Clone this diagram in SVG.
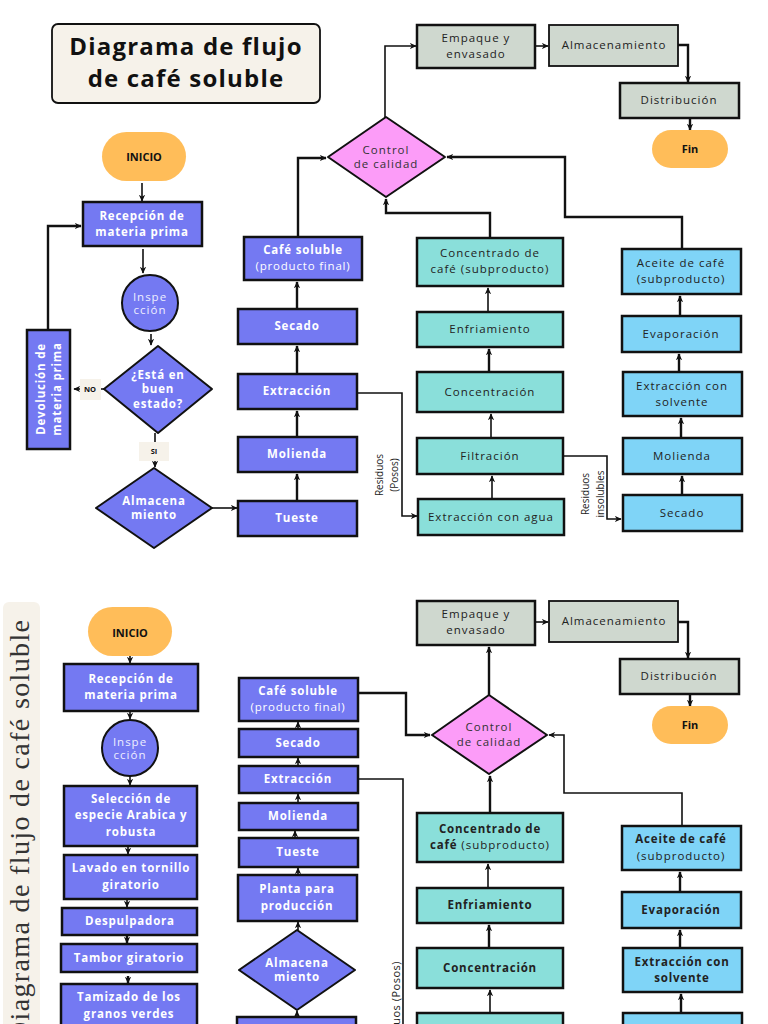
<svg xmlns="http://www.w3.org/2000/svg" width="768" height="1024" viewBox="0 0 768 1024">
<defs>
<marker id="ah" viewBox="0 0 10 10" refX="9" refY="5" markerWidth="7" markerHeight="7" orient="auto" markerUnits="userSpaceOnUse">
<path d="M0,0.5 L10,5 L0,9.5 L3,5 z" fill="#111"/>
</marker>
<style>
.bx{stroke:#111;stroke-width:2.5}
.b{fill:#7479f2}
.t{fill:#8adfda}
.l{fill:#7fd4f7}
.g{fill:#cfd8cf}
.p{fill:#fc9cf8;stroke:#111;stroke-width:2}
.o{fill:#ffbd59}
.bg{fill:#f6f2ea}
.w{font-family:"Open Sans","Noto Sans",sans-serif;font-weight:700;font-size:11.5px;fill:#fff;letter-spacing:0.8px;text-anchor:middle;dominant-baseline:central}
.wr{font-weight:400}
.lt{font-family:"Open Sans","Noto Sans",sans-serif;font-weight:400;font-size:11.5px;fill:#eef;letter-spacing:1px;text-anchor:middle;dominant-baseline:central}
.d{font-family:"Open Sans","Noto Sans",sans-serif;font-weight:400;font-size:11.5px;fill:#222;letter-spacing:1px;text-anchor:middle;dominant-baseline:central}
.db{font-weight:700;letter-spacing:0.8px}
.k{font-family:"Open Sans","Noto Sans",sans-serif;font-weight:700;font-size:11px;fill:#111;text-anchor:middle;dominant-baseline:central}
.sm{font-family:"Open Sans","Noto Sans",sans-serif;font-weight:400;font-size:10px;fill:#222;text-anchor:middle;dominant-baseline:central}
.c{fill:none;stroke:#111;stroke-width:1.6}
.c2{fill:none;stroke:#111;stroke-width:2.4}
.ttl{font-family:"Open Sans","Noto Sans",sans-serif;font-weight:700;font-size:24px;fill:#111;letter-spacing:1.2px;text-anchor:middle}
</style>
</defs>
<rect width="768" height="1024" fill="#fff"/>

<!-- ============ TOP HALF ============ -->
<g id="title">
<rect x="52" y="24" width="268" height="79" rx="6" class="bg" stroke="#111" stroke-width="1.8"/>
<text x="186" y="55" class="ttl">Diagrama de flujo</text>
<text x="186" y="87" class="ttl">de café soluble</text>
</g>

<g id="connectors-top">
<path class="c" d="M142,183 V201" marker-end="url(#ah)"/>
<path class="c" d="M143,249 V273" marker-end="url(#ah)"/>
<path class="c" d="M151,334 V345" marker-end="url(#ah)"/>
<path class="c" d="M104,389 H74" stroke-dasharray="none" marker-end="url(#ah)"/>
<path class="c2" d="M48,330 V226 H81" marker-end="url(#ah)"/>
<path class="c" d="M155,433 V442"/>
<path class="c" d="M155,461 V467" marker-end="url(#ah)"/>
<path class="c" d="M212,508 H237" marker-end="url(#ah)"/>
<path class="c2" d="M297,500 V474" marker-end="url(#ah)"/>
<path class="c2" d="M297,437 V411" marker-end="url(#ah)"/>
<path class="c2" d="M297,373 V346" marker-end="url(#ah)"/>
<path class="c2" d="M297,308 V282" marker-end="url(#ah)"/>
<path class="c2" d="M298,237 V158 H326" marker-end="url(#ah)"/>
<path class="c" d="M385,117 V46 H416" marker-end="url(#ah)"/>
<path class="c" d="M535,46 H548" marker-end="url(#ah)"/>
<path class="c2" d="M678,45 H688 V82" marker-end="url(#ah)"/>
<path class="c2" d="M690,118 V130" marker-end="url(#ah)"/>
<path class="c2" d="M490,238 V213 H386 V199" marker-end="url(#ah)"/>
<path class="c2" d="M682,249 V217 H565 V157 H447" marker-end="url(#ah)"/>
<path class="c" d="M488,312 V288" marker-end="url(#ah)"/>
<path class="c2" d="M489,372 V349" marker-end="url(#ah)"/>
<path class="c" d="M491,438 V414" marker-end="url(#ah)"/>
<path class="c" d="M492,499 V476" marker-end="url(#ah)"/>
<path class="c2" d="M680,316 V296" marker-end="url(#ah)"/>
<path class="c2" d="M679,372 V354" marker-end="url(#ah)"/>
<path class="c2" d="M681,438 V418" marker-end="url(#ah)"/>
<path class="c2" d="M682,495 V476" marker-end="url(#ah)"/>
<path class="c" d="M357,393 H402 V516 H417" marker-end="url(#ah)"/>
<path class="c" d="M563,456 H607 V519 H621" marker-end="url(#ah)"/>
</g>

<g id="inicio1"><rect x="102" y="132" width="84" height="49" rx="24.5" class="o"/><text x="144" y="156" class="k">INICIO</text></g>
<g id="recepcion1"><rect x="83" y="202" width="119" height="44" class="b bx"/><text x="142" y="215" class="w">Recepción de</text><text x="142" y="231" class="w">materia prima</text></g>
<g id="inspeccion1"><circle cx="150" cy="303" r="28" class="b" stroke="#111" stroke-width="2"/><text x="150" y="296" class="lt">Inspe</text><text x="150" y="309" class="lt">cción</text></g>
<g id="estado1"><path d="M158,346 L212,389 L158,433 L104,389 Z" class="b" stroke="#111" stroke-width="2" stroke-linejoin="round"/><text x="158" y="374" class="w">¿Está en</text><text x="158" y="388" class="w">buen</text><text x="158" y="403" class="w">estado?</text></g>
<g id="no1"><rect x="80" y="379" width="21" height="21" class="bg"/><text x="90" y="389" class="k" style="font-size:7.5px">NO</text></g>
<g id="devolucion1"><rect x="27" y="330" width="43" height="119" class="b bx"/><g transform="translate(48,389) rotate(-90)"><text x="0" y="-8" class="w">Devolución de</text><text x="0" y="8" class="w">materia prima</text></g></g>
<g id="si1"><rect x="139" y="442" width="30" height="19" class="bg"/><text x="154" y="451" class="k" style="font-size:7.5px">SI</text></g>
<g id="almacena1"><path d="M154,468 L212,508 L154,548 L96,508 Z" class="b" stroke="#111" stroke-width="2" stroke-linejoin="round"/><text x="154" y="500" class="w">Almacena</text><text x="154" y="514" class="w">miento</text></g>
<g id="tueste1"><rect x="238" y="501" width="119" height="35" class="b bx"/><text x="297" y="517" class="w">Tueste</text></g>
<g id="molienda1"><rect x="238" y="437" width="119" height="35" class="b bx"/><text x="297" y="453" class="w">Molienda</text></g>
<g id="extraccion1"><rect x="238" y="374" width="119" height="35" class="b bx"/><text x="297" y="390" class="w">Extracción</text></g>
<g id="secado1"><rect x="238" y="309" width="119" height="35" class="b bx"/><text x="297" y="325" class="w">Secado</text></g>
<g id="cafesoluble1"><rect x="244" y="237" width="118" height="43" class="b bx"/><text x="303" y="249" class="w">Café soluble</text><text x="303" y="265" class="w wr">(producto final)</text></g>
<g id="control1"><path d="M386,117 L445,157 L386,197 L328,157 Z" class="p" stroke-linejoin="round"/><text x="386" y="149" class="d" style="fill:#333">Control</text><text x="386" y="163" class="d" style="fill:#333">de calidad</text></g>
<g id="empaque1"><rect x="417" y="25" width="118" height="43" class="g bx"/><text x="476" y="37" class="d">Empaque y</text><text x="476" y="53" class="d">envasado</text></g>
<g id="almacenamiento1"><rect x="549" y="25" width="129" height="41" class="g" stroke="#111" stroke-width="1.8"/><text x="614" y="44" class="d">Almacenamiento</text></g>
<g id="distribucion1"><rect x="620" y="83" width="119" height="35" class="g bx"/><text x="679" y="99" class="d">Distribución</text></g>
<g id="fin1"><rect x="652" y="130" width="76" height="38" rx="19" class="o"/><text x="690" y="148" class="k">Fin</text></g>
<g id="concentrado1"><rect x="417" y="238" width="146" height="48" class="t bx"/><text x="490" y="252" class="d">Concentrado de</text><text x="490" y="268" class="d">café (subproducto)</text></g>
<g id="enfriamiento1"><rect x="417" y="312" width="146" height="35" class="t bx"/><text x="490" y="328" class="d">Enfriamiento</text></g>
<g id="concentracion1"><rect x="417" y="372" width="146" height="40" class="t bx"/><text x="490" y="391" class="d">Concentración</text></g>
<g id="filtracion1"><rect x="417" y="438" width="146" height="36" class="t bx"/><text x="490" y="455" class="d">Filtración</text></g>
<g id="extagua1"><rect x="418" y="499" width="146" height="36" class="t bx"/><text x="491" y="516" class="d">Extracción con agua</text></g>
<g id="aceite1"><rect x="622" y="249" width="119" height="45" class="l bx"/><text x="681" y="262" class="d">Aceite de café</text><text x="681" y="278" class="d">(subproducto)</text></g>
<g id="evaporacion1"><rect x="622" y="316" width="119" height="36" class="l bx"/><text x="681" y="333" class="d">Evaporación</text></g>
<g id="extsolvente1"><rect x="623" y="372" width="119" height="44" class="l bx"/><text x="682" y="385" class="d">Extracción con</text><text x="682" y="401" class="d">solvente</text></g>
<g id="molienda1b"><rect x="623" y="438" width="119" height="36" class="l bx"/><text x="682" y="455" class="d">Molienda</text></g>
<g id="secado1b"><rect x="623" y="495" width="119" height="36" class="l bx"/><text x="682" y="512" class="d">Secado</text></g>
<g id="lbl-posos1" transform="translate(386,475) rotate(-90)"><text x="0" y="-7" class="sm">Residuos</text><text x="0" y="8" class="sm">(Posos)</text></g>
<g id="lbl-insol1" transform="translate(593,494) rotate(-90)"><text x="0" y="-8" class="sm">Residuos</text><text x="0" y="7" class="sm">insolubles</text></g>

<!-- ============ BOTTOM HALF ============ -->
<g id="banner2">
<rect x="3" y="602" width="37" height="440" rx="6" class="bg"/>
<text transform="translate(29,1042) rotate(-90)" x="0" y="0" textLength="422" lengthAdjust="spacing" style="font-family:'Liberation Serif','DejaVu Serif',serif;font-size:28px;fill:#333">Diagrama de flujo de café soluble</text>
</g>

<g id="connectors-bottom">
<path class="c" d="M130,656 V663" marker-end="url(#ah)"/>
<path class="c" d="M130,711 V719" marker-end="url(#ah)"/>
<path class="c" d="M130,776 V785" marker-end="url(#ah)"/>
<path class="c" d="M128,846 V854" marker-end="url(#ah)"/>
<path class="c" d="M127,899 V907" marker-end="url(#ah)"/>
<path class="c2" d="M127,935 V943" marker-end="url(#ah)"/>
<path class="c2" d="M128,976 V983" marker-end="url(#ah)"/>
<path class="c" d="M298,729 V722" marker-end="url(#ah)"/>
<path class="c" d="M298,766 V758" marker-end="url(#ah)"/>
<path class="c" d="M298,803 V794" marker-end="url(#ah)"/>
<path class="c" d="M295,838 V831" marker-end="url(#ah)"/>
<path class="c" d="M298,875 V868" marker-end="url(#ah)"/>
<path class="c" d="M298,930 V922" marker-end="url(#ah)"/>
<path class="c" d="M297,1017 V1011" marker-end="url(#ah)"/>
<path class="c2" d="M358,693 H406 V735 H430" marker-end="url(#ah)"/>
<path class="c" d="M358,779 H403 V1030"/>
<path class="c2" d="M489,695 V647" marker-end="url(#ah)"/>
<path class="c" d="M535,622 H548" marker-end="url(#ah)"/>
<path class="c2" d="M678,622 H688 V658" marker-end="url(#ah)"/>
<path class="c2" d="M690,694 V706" marker-end="url(#ah)"/>
<path class="c2" d="M490,813 V776" marker-end="url(#ah)"/>
<path class="c" d="M682,826 V793 H564 V735 H549" marker-end="url(#ah)"/>
<path class="c" d="M488,888 V864" marker-end="url(#ah)"/>
<path class="c2" d="M489,948 V925" marker-end="url(#ah)"/>
<path class="c" d="M490,1013 V990" marker-end="url(#ah)"/>
<path class="c2" d="M680,892 V872" marker-end="url(#ah)"/>
<path class="c2" d="M680,948 V930" marker-end="url(#ah)"/>
<path class="c2" d="M681,1013 V994" marker-end="url(#ah)"/>
</g>

<g id="inicio2"><rect x="88" y="607" width="84" height="49" rx="24.5" class="o"/><text x="130" y="632" class="k">INICIO</text></g>
<g id="recepcion2"><rect x="64" y="664" width="134" height="47" class="b bx"/><text x="131" y="678" class="w">Recepción de</text><text x="131" y="694" class="w">materia prima</text></g>
<g id="inspeccion2"><circle cx="130" cy="748" r="28" class="b" stroke="#111" stroke-width="2"/><text x="130" y="741" class="lt">Inspe</text><text x="130" y="754" class="lt">cción</text></g>
<g id="seleccion2"><rect x="64" y="786" width="133" height="60" class="b bx"/><text x="131" y="798" class="w">Selección de</text><text x="131" y="814" class="w">especie Arabica y</text><text x="131" y="831" class="w">robusta</text></g>
<g id="lavado2"><rect x="64" y="855" width="133" height="44" class="b bx"/><text x="131" y="867" class="w">Lavado en tornillo</text><text x="131" y="884" class="w">giratorio</text></g>
<g id="despulpadora2"><rect x="62" y="908" width="135" height="27" class="b bx"/><text x="130" y="920" class="w">Despulpadora</text></g>
<g id="tambor2"><rect x="61" y="944" width="136" height="28" class="b bx"/><text x="129" y="957" class="w">Tambor giratorio</text></g>
<g id="tamizado2"><rect x="61" y="984" width="136" height="50" class="b bx"/><text x="129" y="996" class="w">Tamizado de los</text><text x="129" y="1013" class="w">granos verdes</text></g>

<g id="cafesoluble2"><rect x="239" y="678" width="119" height="43" class="b bx"/><text x="298" y="690" class="w">Café soluble</text><text x="298" y="706" class="w wr">(producto final)</text></g>
<g id="secado2"><rect x="239" y="729" width="119" height="28" class="b bx"/><text x="298" y="742" class="w">Secado</text></g>
<g id="extraccion2"><rect x="239" y="766" width="119" height="27" class="b bx"/><text x="298" y="778" class="w">Extracción</text></g>
<g id="molienda2"><rect x="239" y="803" width="119" height="27" class="b bx"/><text x="298" y="815" class="w">Molienda</text></g>
<g id="tueste2"><rect x="239" y="838" width="119" height="29" class="b bx"/><text x="298" y="851" class="w">Tueste</text></g>
<g id="planta2"><rect x="238" y="875" width="119" height="46" class="b bx"/><text x="297" y="888" class="w">Planta para</text><text x="297" y="905" class="w">producción</text></g>
<g id="almacena2"><path d="M297,930 L355,970 L297,1010 L239,970 Z" class="b" stroke="#111" stroke-width="2" stroke-linejoin="round"/><text x="297" y="962" class="w">Almacena</text><text x="297" y="976" class="w">miento</text></g>
<g id="box2-bottom"><rect x="237" y="1017" width="119" height="20" class="b bx"/></g>
<g id="lbl-posos2" transform="translate(395,1055) rotate(-90)"><text x="0" y="0" class="sm" style="text-anchor:start;font-size:11px;letter-spacing:0.5px">Residuos (Posos)</text></g>

<g id="control2"><path d="M489,695 L547,735 L489,774 L432,735 Z" class="p" stroke-linejoin="round"/><text x="489" y="726" class="d" style="fill:#333">Control</text><text x="489" y="741" class="d" style="fill:#333">de calidad</text></g>
<g id="empaque2"><rect x="417" y="601" width="118" height="44" class="g bx"/><text x="476" y="613" class="d">Empaque y</text><text x="476" y="629" class="d">envasado</text></g>
<g id="almacenamiento2"><rect x="549" y="601" width="129" height="41" class="g" stroke="#111" stroke-width="1.8"/><text x="614" y="620" class="d">Almacenamiento</text></g>
<g id="distribucion2"><rect x="620" y="659" width="119" height="35" class="g bx"/><text x="679" y="675" class="d">Distribución</text></g>
<g id="fin2"><rect x="652" y="706" width="76" height="38" rx="19" class="o"/><text x="690" y="724" class="k">Fin</text></g>
<g id="concentrado2"><rect x="417" y="813" width="146" height="49" class="t bx"/><text x="490" y="828" class="d db">Concentrado de</text><text x="490" y="844" class="d"><tspan class="db">café</tspan> (subproducto)</text></g>
<g id="enfriamiento2"><rect x="417" y="888" width="146" height="35" class="t bx"/><text x="490" y="904" class="d db">Enfriamiento</text></g>
<g id="concentracion2"><rect x="417" y="948" width="146" height="40" class="t bx"/><text x="490" y="967" class="d db">Concentración</text></g>
<g id="filtracion2"><rect x="417" y="1013" width="146" height="24" class="t bx"/></g>
<g id="aceite2"><rect x="622" y="826" width="119" height="44" class="l bx"/><text x="681" y="838" class="d db">Aceite de café</text><text x="681" y="855" class="d">(subproducto)</text></g>
<g id="evaporacion2"><rect x="622" y="892" width="119" height="36" class="l bx"/><text x="681" y="909" class="d db">Evaporación</text></g>
<g id="extsolvente2"><rect x="623" y="948" width="119" height="44" class="l bx"/><text x="682" y="961" class="d db">Extracción con</text><text x="682" y="977" class="d db">solvente</text></g>
<g id="box2-right-bottom"><rect x="623" y="1013" width="119" height="24" class="l bx"/></g>
</svg>
